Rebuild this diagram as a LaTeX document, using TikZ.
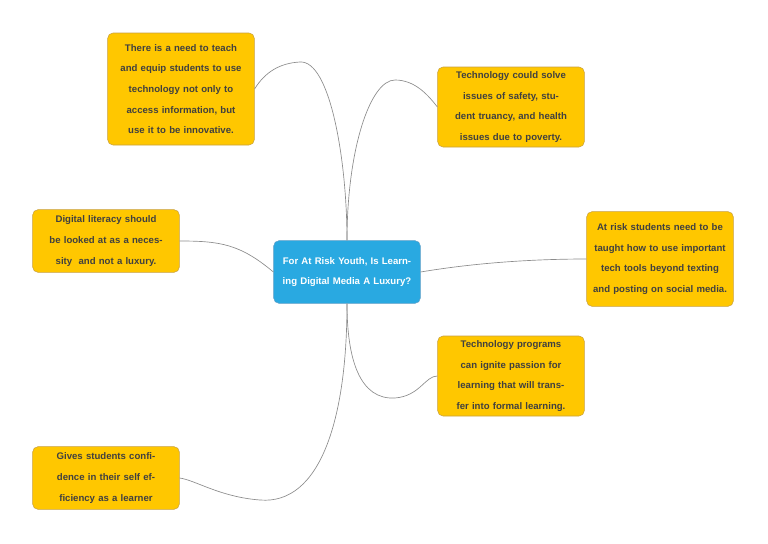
\documentclass[tikz,border=0pt]{standalone}
\usepackage{fontspec}
\setmainfont{Liberation Sans}
\usetikzlibrary{positioning}
\definecolor{idea}{HTML}{FFC700}
\definecolor{idealine}{HTML}{C8A040}
\definecolor{hub}{HTML}{29A9E1}
\definecolor{hubline}{HTML}{5A9EC8}
\begin{document}
\begin{tikzpicture}[x=0.75pt, y=-0.75pt,
        box/.style={draw=idealine, fill=idea, rounded corners=4pt, text=black!75, align=center,
            font=\bfseries\fontsize{7.2}{15.5}\selectfont, inner sep=0pt},
        link/.style={draw=gray!90, line width=0.5pt}
    ]
        \useasboundingbox (0,0) rectangle (768,543);
        % centre
        \node [box, draw=hubline, fill=hub, text=white, minimum width=110pt, minimum height=47pt, text width=100pt]
            (hub) at (347,272) {For At Risk Youth, Is Learning Digital Media A Luxury?};

        % ideas
        \node [box, minimum width=110pt, minimum height=84pt, text width=104pt] (teach) at (181,89)
            {There is a need to teach and equip students to use technology not only to access information, but use it to be innovative.};
        \node [box, minimum width=110pt, minimum height=60pt, text width=104pt] (solve) at (511,107)
            {Technology could solve issues of safety, student truancy, and health issues due to poverty.};
        \node [box, minimum width=110pt, minimum height=47pt, text width=104pt] (literacy) at (106,241)
            {Digital literacy should be looked at as a necessity~ and not a luxury.};
        \node [box, minimum width=110pt, minimum height=71pt, text width=104pt] (tools) at (660,259)
            {At risk students need to be taught how to use important tech tools beyond texting and posting on social media.};
        \node [box, minimum width=110pt, minimum height=60pt, text width=104pt] (ignite) at (511,376)
            {Technology programs can ignite passion for learning that will transfer into formal learning.};
        \node [box, minimum width=110pt, minimum height=47pt, text width=104pt] (confidence) at (106,478)
            {Gives students confidence in their self efficiency as a learner};

        % links
        \draw [link] (hub.north) .. controls (347,160) and (330,60) .. (300,62) .. controls (280,63) and (265,72) .. (teach.east);
        \draw [link] (hub.north) .. controls (347,150) and (370,80) .. (395,80) .. controls (415,80) and (428,95) .. (solve.west);
        \draw [link] (hub.west) .. controls (240,244) and (220,241) .. (literacy.east);
        \draw [link] (hub.east) .. controls (480,262) and (540,259) .. (tools.west);
        \draw [link] (hub.south) .. controls (347,360) and (360,400) .. (395,398) .. controls (420,396) and (425,376) .. (ignite.west);
        \draw [link] (hub.south) .. controls (347,420) and (320,505) .. (260,500) .. controls (220,497) and (195,480) .. (confidence.east);
\end{tikzpicture}
\end{document}
